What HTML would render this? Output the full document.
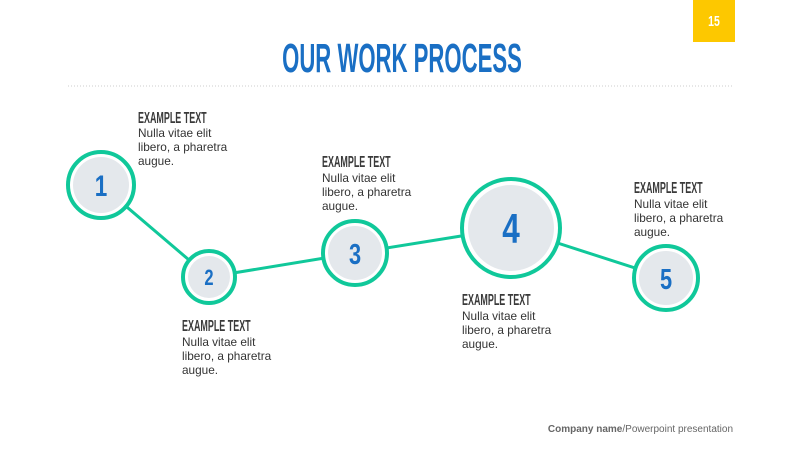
<!DOCTYPE html>
<html><head><meta charset="utf-8"><style>
body{margin:0;background:#fff}
svg{display:block}
.h{font-family:"Liberation Sans",sans-serif;font-weight:bold;fill:#3a3a3a;font-size:16px}
.b{font-family:"Liberation Sans",sans-serif;fill:#333;font-size:11.8px}
.n{font-family:"Liberation Sans",sans-serif;font-weight:bold;fill:#1a6fc4;text-anchor:middle}
</style></head><body>
<svg width="800" height="450" viewBox="0 0 800 450">
<rect x="693" y="0" width="42" height="42" fill="#fdc800"/>
<g transform="translate(714 26) scale(0.7 1)"><text x="0" y="0" text-anchor="middle" font-family="Liberation Sans,sans-serif" font-weight="bold" font-size="15" fill="#fff">15</text></g>
<g transform="translate(402 72) scale(0.54 1)"><text x="0" y="0" text-anchor="middle" font-family="Liberation Sans,sans-serif" font-weight="bold" font-size="41" fill="#1a6fc4">OUR WORK PROCESS</text></g>
<line x1="68" y1="86" x2="733" y2="86" stroke="#ccc" stroke-width="1" stroke-dasharray="1 2"/>
<polyline points="101,185 209,277 355,253 511,228 666,278" stroke="#10c89a" stroke-width="3" fill="none"/>
<g stroke="#10c89a" stroke-width="4" fill="#fff">
<circle cx="101" cy="185" r="33"/>
<circle cx="209" cy="277" r="26"/>
<circle cx="355" cy="253" r="32"/>
<circle cx="511" cy="228" r="49"/>
<circle cx="666" cy="278" r="32"/>
</g>
<g fill="#e4e8ec">
<circle cx="101" cy="185" r="28"/>
<circle cx="209" cy="277" r="21"/>
<circle cx="355" cy="253" r="27"/>
<circle cx="511" cy="228" r="43"/>
<circle cx="666" cy="278" r="27"/>
</g>
<g transform="translate(101 196) scale(0.75 1)"><text class="n" font-size="30">1</text></g>
<g transform="translate(209 285) scale(0.75 1)"><text class="n" font-size="22">2</text></g>
<g transform="translate(355 264) scale(0.75 1)"><text class="n" font-size="29">3</text></g>
<g transform="translate(511 243) scale(0.75 1)"><text class="n" font-size="42">4</text></g>
<g transform="translate(666 289) scale(0.75 1)"><text class="n" font-size="29">5</text></g>
<g transform="translate(138 123) scale(0.56 1)"><text class="h">EXAMPLE TEXT</text></g>
<text class="b" x="138" y="137">Nulla vitae elit</text><text class="b" x="138" y="151">libero, a pharetra</text><text class="b" x="138" y="165">augue.</text>
<g transform="translate(322 167) scale(0.56 1)"><text class="h">EXAMPLE TEXT</text></g>
<text class="b" x="322" y="182">Nulla vitae elit</text><text class="b" x="322" y="196">libero, a pharetra</text><text class="b" x="322" y="210">augue.</text>
<g transform="translate(634 193) scale(0.56 1)"><text class="h">EXAMPLE TEXT</text></g>
<text class="b" x="634" y="208">Nulla vitae elit</text><text class="b" x="634" y="222">libero, a pharetra</text><text class="b" x="634" y="236">augue.</text>
<g transform="translate(462 305) scale(0.56 1)"><text class="h">EXAMPLE TEXT</text></g>
<text class="b" x="462" y="320">Nulla vitae elit</text><text class="b" x="462" y="334">libero, a pharetra</text><text class="b" x="462" y="348">augue.</text>
<g transform="translate(182 331) scale(0.56 1)"><text class="h">EXAMPLE TEXT</text></g>
<text class="b" x="182" y="346">Nulla vitae elit</text><text class="b" x="182" y="360">libero, a pharetra</text><text class="b" x="182" y="374">augue.</text>
<text x="733" y="432" text-anchor="end" font-family="Liberation Sans,sans-serif" font-size="10" fill="#666"><tspan font-weight="bold">Company name</tspan>/Powerpoint presentation</text>
</svg>
</body></html>
